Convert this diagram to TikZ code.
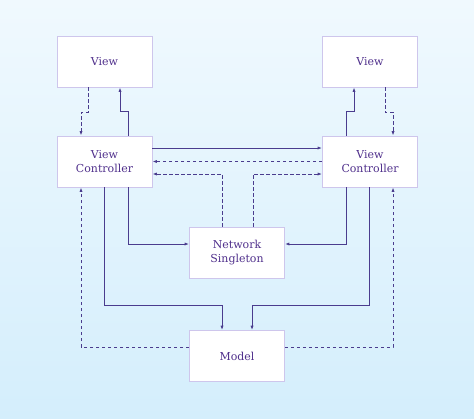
\documentclass[tikz,border=0pt]{standalone}
\usepackage{fontspec}
\setmainfont{DejaVu Serif}
\usepackage{tikz}
\usetikzlibrary{arrows.meta}
\usetikzlibrary{positioning}
\definecolor{bgtop}{RGB}{240,249,254}
\definecolor{bgbot}{RGB}{212,238,252}
\definecolor{boxline}{RGB}{206,198,236}
\definecolor{wire}{RGB}{74,60,142}
\definecolor{label}{RGB}{80,48,140}

\begin{document}
\begin{tikzpicture}[x=1bp,y=1bp,
  block/.style={rectangle,draw=boxline,line width=0.8bp,fill=white,minimum width=95bp,minimum height=51bp,inner sep=0pt,align=center,text=label,font=\fontsize{11}{14}\selectfont},
  solidlink/.style={draw=wire,line width=0.9bp,-{Latex[length=4.5bp,width=3.2bp]}},
  dashlink/.style={solidlink,dash pattern=on 3.2bp off 2.8bp}]
\shade[top color=bgtop,bottom color=bgbot] (0,0) rectangle (474,418);
\node[block] (lview) at (104.5,356.5) {View};
\node[block] (rview) at (370,356.5) {View};
\node[block] (lvc) at (104.5,256.5) {View\\Controller};
\node[block] (rvc) at (370,256.5) {View\\Controller};
\node[block] (net) at (237,165.5) {Network\\Singleton};
\node[block] (model) at (237,62) {Model};

\draw[dashlink] ([xshift=-16.5bp]lview.south) -- ++(0,-25) -| ([xshift=-23.5bp]lvc.north);
\draw[solidlink] ([xshift=23.5bp]lvc.north) -- ++(0,24) -| ([xshift=15.5bp]lview.south);
\draw[solidlink] ([xshift=-24bp]rvc.north) -- ++(0,24) -| ([xshift=-16bp]rview.south);
\draw[dashlink] ([xshift=15bp]rview.south) -- ++(0,-25) -| ([xshift=23bp]rvc.north);

\draw[solidlink] ([yshift=13.5bp]lvc.east) -- ([yshift=13.5bp]rvc.west);
\draw[dashlink] (rvc.west) -- (lvc.east);
\draw[dashlink] ([xshift=-15bp]net.north) |- ([yshift=-12.5bp]lvc.east);
\draw[dashlink] ([xshift=16bp]net.north) |- ([yshift=-12.5bp]rvc.west);

\draw[solidlink] ([xshift=23.5bp]lvc.south) |- ([yshift=8.5bp]net.west);
\draw[solidlink] ([xshift=-24bp]rvc.south) |- ([yshift=8.5bp]net.east);
\draw[solidlink] (lvc.south) -- ++(0,-118) -| ([xshift=-15bp]model.north);
\draw[solidlink] ([xshift=-1bp]rvc.south) -- ++(0,-118) -| ([xshift=15bp]model.north);
\draw[dashlink] ([yshift=9bp]model.west) -| ([xshift=-23.5bp]lvc.south);
\draw[dashlink] ([yshift=9bp]model.east) -| ([xshift=23bp]rvc.south);
\end{tikzpicture}
\end{document}
